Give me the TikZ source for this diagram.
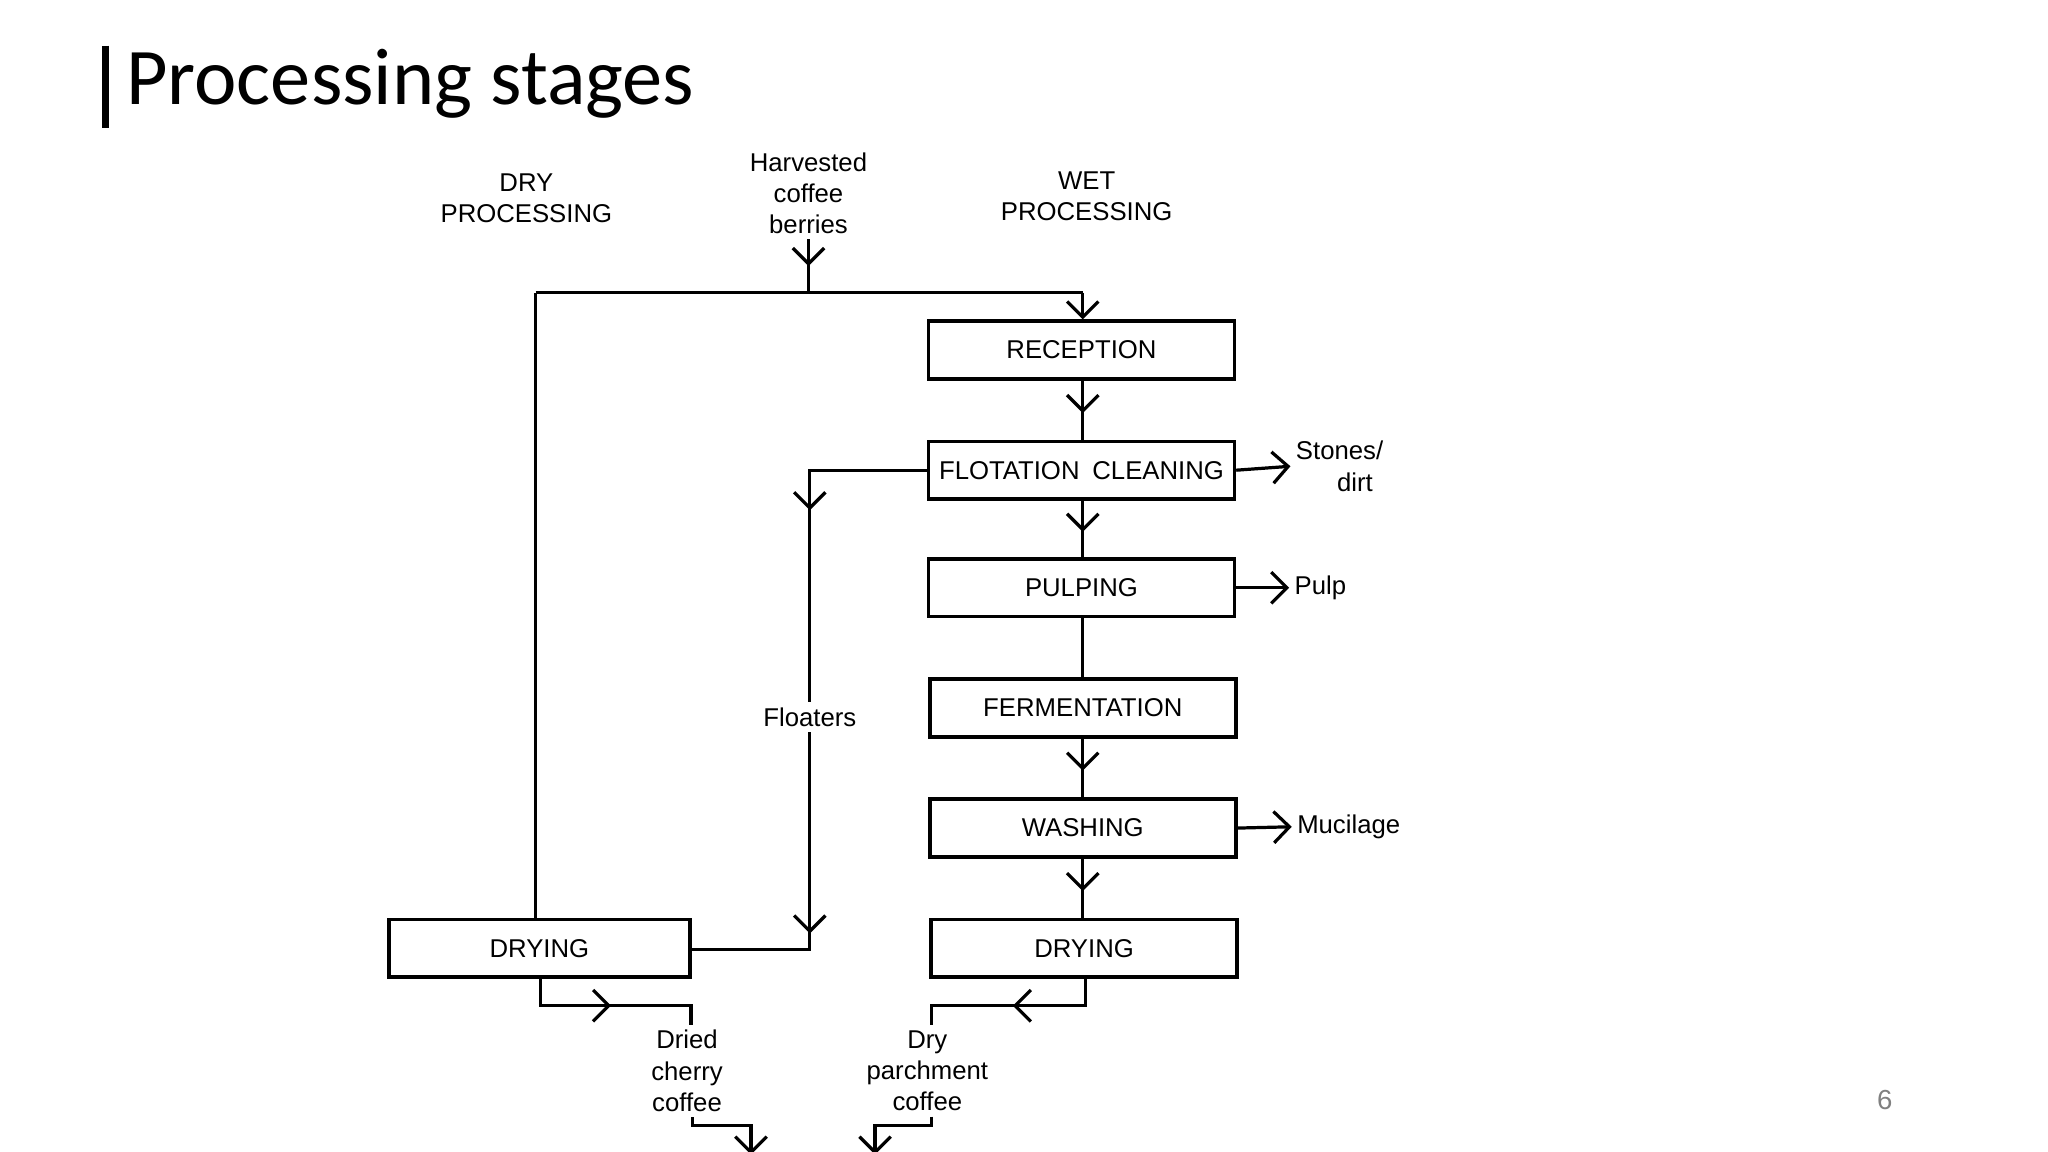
\documentclass[tikz,border=0pt]{standalone}
\usepackage{fontspec}
\setmainfont{Liberation Sans}
\newfontfamily\titlefont{Carlito}
\usetikzlibrary{arrows.meta,decorations.markings}
\begin{document}
\begin{tikzpicture}[x=0.01cm,y=-0.01cm,
  box/.style={draw,line width=0.8pt,minimum width=2.34cm,minimum height=0.44cm,inner sep=0pt,font=\fontsize{5.6}{6.6}\selectfont},
  lbl/.style={align=center,font=\fontsize{5.6}{6.8}\selectfont,inner sep=1pt},
  ln/.style={line width=0.7pt},
  mid/.style={ln,decoration={markings,mark=at position #1 with {\arrow{Straight Barb[length=1.2mm,width=2.4mm]}}},postaction={decorate}},
  mid/.default=0.55,
  tip/.style={ln,-{Straight Barb[length=1.2mm,width=2.4mm]}}]
\useasboundingbox (0,0) rectangle (1568,882);
\node[anchor=west,font=\titlefont\fontsize{17.5}{20}\selectfont,inner sep=0pt] (title) at (96,64) {Processing stages};
\draw[line width=1.6pt] (81,35) -- (81,98);
\node[lbl] (dryp) at (403,152) {DRY\\PROCESSING};
\node[lbl] (harv) at (619,148) {Harvested\\coffee\\berries};
\node[lbl] (wetp) at (832,150) {WET\\PROCESSING};
\node[box] (rec) at (828,268) {RECEPTION};
\node[box] (flo) at (828,360) {FLOTATION\enspace CLEANING};
\node[box] (pul) at (828,450) {PULPING};
\node[box] (fer) at (829,542) {FERMENTATION};
\node[box] (was) at (829,634) {WASHING};
\node[box] (dr2) at (830,726) {DRYING};
\node[box,minimum width=2.3cm] (dr1) at (413,726) {DRYING};
\node[lbl,anchor=west] (sto) at (988,357) {Stones/\\\hspace*{1.2em}dirt};
\node[lbl,anchor=west] (pulp) at (987,450) {Pulp};
\node[lbl,anchor=west] (muc) at (989,633) {Mucilage};
\node[lbl] (flt) at (620,549) {Floaters};
\node[lbl] (dcc) at (526,820) {Dried\\cherry\\coffee};
\node[lbl] (dpc) at (710,820) {Dry\\parchment\\coffee};
\node[font=\fontsize{6}{7}\selectfont,text=gray] (pg) at (1443,842) {6};
\coordinate (j) at (619,224);
\coordinate (jl) at (410,224);
\coordinate (jr) at (829,224);
\draw[mid=0.5] (harv.south) -- (j);
\draw[ln] (jl) -- (jr);
\draw[tip] (jr) -- (rec.north-|jr);
\draw[ln] (jl) -- (jl|-dr1.north);
\draw[mid] (rec.south-|jr) -- (flo.north-|jr);
\draw[mid] (flo.south-|jr) -- (pul.north-|jr);
\draw[ln] (pul.south-|jr) -- (fer.north-|jr);
\draw[mid] (fer.south-|jr) -- (fer.south-|jr) -- (was.north-|jr);
\draw[mid] (was.south-|jr) -- (dr2.north-|jr);
\draw[tip] (flo.east) -- (sto.west);
\draw[tip] (pul.east) -- (pulp.west);
\draw[tip] (was.east) -- (muc.west);
\draw[mid=0.45] (flo.west) -- (620,360) -- (flt.north);
\draw[mid=0.6] (flt.south) -- (620,727) -- (dr1.east|-620,727);
\draw[mid=0.5] (414,748) -- (414,770) -- (529,770) -- (dcc.north-|529,0);
\draw[mid=0.5] (831,748) -- (831,770) -- (713,770) -- (dpc.north-|713,0);
\draw[tip] (dcc.south-|530,0) -- (530,862) -- (575,862) -- (575,884);
\draw[tip] (dpc.south-|713,0) -- (713,862) -- (670,862) -- (670,884);
\end{tikzpicture}
\end{document}
